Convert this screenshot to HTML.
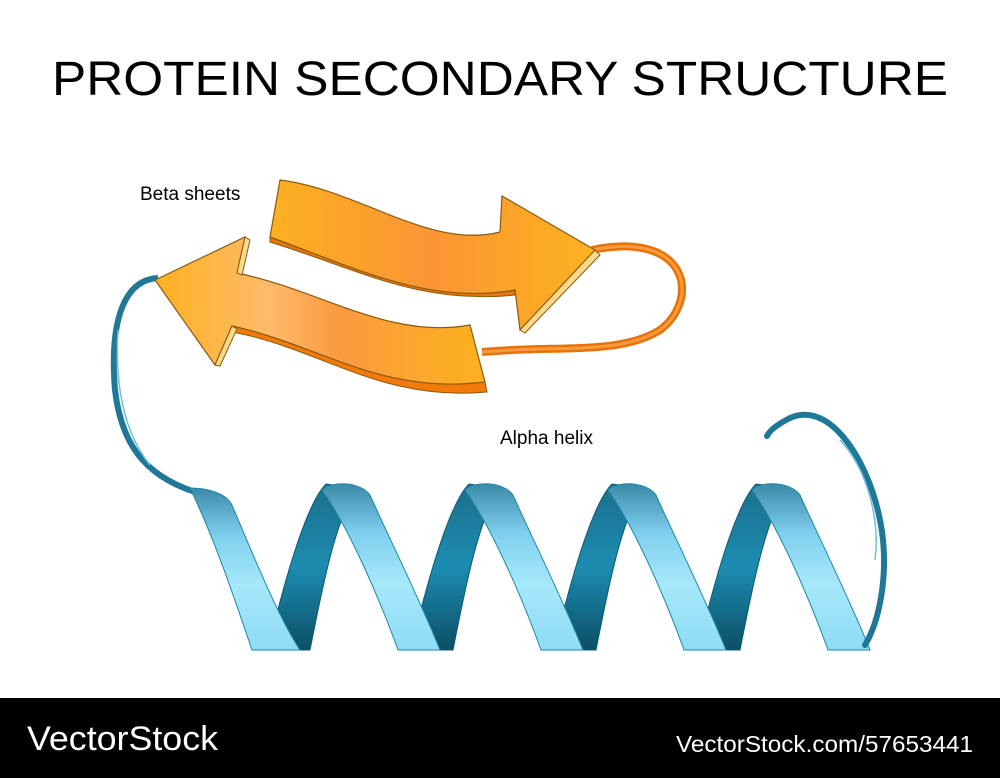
<!DOCTYPE html>
<html><head><meta charset="utf-8"><style>
html,body{margin:0;padding:0;background:#fff}
svg{display:block}
</style></head><body>
<svg width="1000" height="778" viewBox="0 0 1000 778" xmlns="http://www.w3.org/2000/svg" font-family="Liberation Sans, sans-serif">
<defs>
<linearGradient id="lt" x1="0" y1="0" x2="0" y2="1">
<stop offset="0" stop-color="#3a8aa8"/><stop offset="0.3" stop-color="#7fd0ee"/><stop offset="0.6" stop-color="#a6e8fb"/><stop offset="1" stop-color="#8fdcf5"/>
</linearGradient>
<linearGradient id="dk" x1="0" y1="0" x2="0" y2="1">
<stop offset="0" stop-color="#1d6f8e"/><stop offset="0.5" stop-color="#1c8cb0"/><stop offset="1" stop-color="#0c4f66"/>
</linearGradient>
<linearGradient id="or1" x1="0" y1="0" x2="1" y2="0">
<stop offset="0" stop-color="#fdb021"/><stop offset="0.5" stop-color="#fb9535"/><stop offset="1" stop-color="#fdb21f"/>
</linearGradient>
<linearGradient id="or2" x1="0" y1="0" x2="1" y2="0">
<stop offset="0" stop-color="#fdb021"/><stop offset="0.35" stop-color="#ffbb6a"/><stop offset="0.55" stop-color="#fb9a40"/><stop offset="1" stop-color="#fdb11f"/>
</linearGradient>
<path id="dkS" d="M268,650 L310,650 C322,590 334,525 356,488 L326,484 C305,505 282,590 268,650 Z"/>
<path id="ltS" d="M322,490 C330,481 360,481 370,495 C390,540 420,600 440,650 L398,650 C380,600 350,530 322,490 Z"/>
</defs>
<rect width="1000" height="778" fill="#fff"/>
<text x="52" y="95" font-size="48" textLength="896" lengthAdjust="spacingAndGlyphs" fill="#000">PROTEIN SECONDARY STRUCTURE</text>
<text x="140" y="200" font-size="19" fill="#000">Beta sheets</text>
<text x="500" y="444" font-size="19" fill="#000">Alpha helix</text>

<path d="M158,278 C120,280 110,330 115,390 C122,450 150,480 205,495" fill="none" stroke="#1f7898" stroke-width="6"/>
<path d="M118,330 C115,380 122,430 150,465" fill="none" stroke="#6cc0dc" stroke-width="1.5"/>

<path d="M592,250 C690,230 700,300 660,330 C620,355 560,345 482,352" fill="none" stroke="#e8720a" stroke-width="8"/>
<path d="M592,250 C690,230 700,300 660,330 C620,355 560,345 482,352" fill="none" stroke="#fb9a3a" stroke-width="3"/>

<path d="M270,236 L270,242 C360,270 420,305 515,295 L515,290 Z" fill="#e8740a" stroke="#8a5a10" stroke-width="1"/>
<path d="M280,180 C360,190 430,250 500,232 L502,196 L595,250 L520,330 L515,290 C430,305 360,270 270,237 Z" fill="url(#or1)" stroke="#8a5a10" stroke-width="1.2"/>
<path d="M595,250 L600,255 L525,333 L520,330 Z" fill="#ffd98a" stroke="#8a5a10" stroke-width="1"/>

<path d="M232,325 L232,332 C320,348 380,402 487,392 L485,382 Z" fill="#f27a0a" stroke="#8a5a10" stroke-width="1"/>
<path d="M155,280 L245,237 L237,273 C320,290 390,340 470,325 L485,382 C380,395 320,345 232,326 L215,365 Z" fill="url(#or2)" stroke="#8a5a10" stroke-width="1.2"/>
<path d="M245,237 L250,240 L242,275 L237,273 Z" fill="#ffd98a" stroke="#8a5a10" stroke-width="1"/>
<path d="M232,326 L237,329 L220,366 L215,365 Z" fill="#ffd98a" stroke="#8a5a10" stroke-width="1"/>

<g fill="url(#dk)" stroke="#0e5a74" stroke-width="1">
<use href="#dkS"/>
<use href="#dkS" transform="translate(143,0)"/>
<use href="#dkS" transform="translate(286,0)"/>
<use href="#dkS" transform="translate(430,0)"/>
</g>
<g fill="url(#lt)" stroke="#1f86a8" stroke-width="1">
<path d="M190,488 C205,488 225,492 232,505 C255,560 280,620 300,650 L252,650 C235,600 215,540 190,488 Z"/>
<use href="#ltS"/>
<use href="#ltS" transform="translate(143,0)"/>
<use href="#ltS" transform="translate(286,0)"/>
<use href="#ltS" transform="translate(430,0)"/>
</g>
<path d="M865,645 C880,620 890,570 880,520 C868,460 830,400 790,418 C778,424 770,430 767,436" fill="none" stroke="#1f7898" stroke-width="6" stroke-linecap="round"/>
<path d="M875,560 C880,520 868,470 840,440" fill="none" stroke="#6cc0dc" stroke-width="1.5"/>

<rect x="0" y="698" width="1000" height="80" fill="#000"/>
<text x="27" y="750" font-size="34" textLength="191" lengthAdjust="spacingAndGlyphs" fill="#fff">VectorStock</text>
<text x="676" y="752" font-size="23" textLength="297" lengthAdjust="spacingAndGlyphs" fill="#fff">VectorStock.com/57653441</text>
</svg>
</body></html>
